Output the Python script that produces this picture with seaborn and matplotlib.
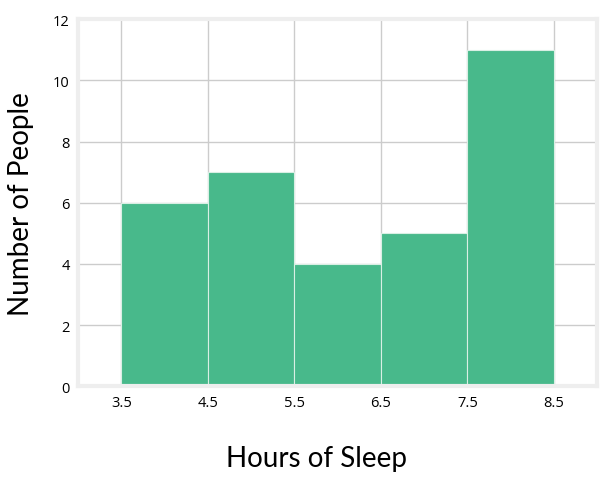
import numpy as np
import pandas as pd
import matplotlib
matplotlib.use("Agg")
import matplotlib.pyplot as plt
import seaborn as sns

# hours of sleep (bin centres) and number of people in each bin
hours = [4, 5, 6, 7, 8]
people = [6, 7, 4, 5, 11]
bin_edges = [3.5, 4.5, 5.5, 6.5, 7.5, 8.5]
y_ticks = [0, 2, 4, 6, 8, 10, 12]

sns.set_style("whitegrid")
plt.rcParams['font.family'] = ['Open Sans', 'DejaVu Sans']

df = pd.DataFrame({'hours': hours, 'people': people})

fig = plt.figure(figsize=(6.15, 4.81), dpi=100)
ax = fig.add_axes([0.127, 0.195, 0.844, 0.763])

sns.histplot(data=df, x='hours', weights='people', bins=bin_edges,
             color='#48b98b', alpha=1.0, edgecolor='#d9efe4', linewidth=0.8, ax=ax)

ax.set_xlim(3.0, 9.0)
ax.set_ylim(0, 12)
ax.set_xticks(bin_edges)
ax.set_yticks(y_ticks)
ax.set_axisbelow(True)
ax.grid(True, color='#cccccc', linewidth=1.0)
for s in ax.spines.values():
    s.set_color('#eeeeee')
    s.set_linewidth(3)
ax.tick_params(length=0, labelsize=10.5, pad=6, labelcolor='black')

lab_font = dict(family=['Lato', 'DejaVu Sans'], fontsize=20, color='black')
ax.set_xlabel('Hours of Sleep', **lab_font)
ax.set_ylabel('Number of People', labelpad=14, **lab_font)
ax.xaxis.set_label_coords(0.459, -0.16)

fig.savefig('out.png', dpi=100)
